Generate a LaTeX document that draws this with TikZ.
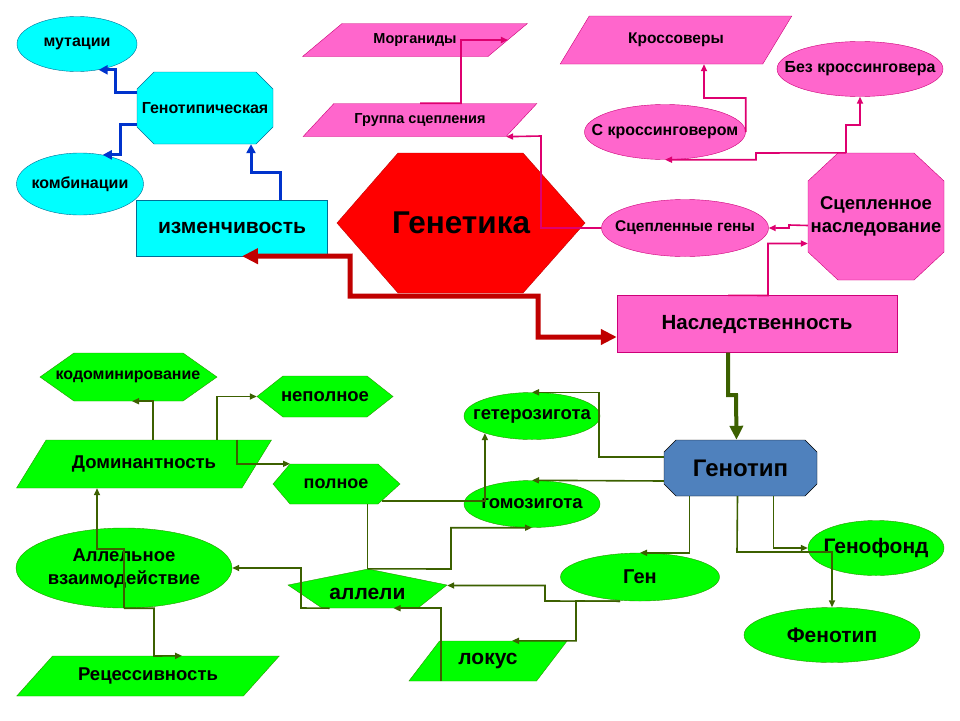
\documentclass[tikz,border=0pt]{standalone}
\usepackage{fontspec}
\setmainfont{Liberation Sans}
\usetikzlibrary{shapes.geometric,arrows.meta}

\definecolor{zyan}{RGB}{0,255,255}
\definecolor{zyanrand}{RGB}{0,110,150}
\definecolor{rosa}{RGB}{255,102,204}
\definecolor{rosarand}{RGB}{204,0,120}
\definecolor{rosalinie}{RGB}{222,0,112}
\definecolor{gruen}{RGB}{0,255,0}
\definecolor{gruenrand}{RGB}{40,150,0}
\definecolor{gruenlinie}{RGB}{60,96,0}
\definecolor{blaulinie}{RGB}{0,51,204}
\definecolor{dunkelrot}{RGB}{192,0,0}
\definecolor{genotipblau}{RGB}{79,129,189}

\newcommand{\schrift}[2]{\fontsize{#1}{#2}\selectfont\bfseries}
\newcommand{\mitte}[1]{\makebox[0pt]{#1}}
\newcommand{\zweizeilig}[2]{\makebox[0pt]{\begin{tabular}{@{}c@{}}#1\\#2\end{tabular}}}

\begin{document}
\begin{tikzpicture}[x=1pt, y=-1pt,
	every node/.style={inner sep=0pt, align=center, font=\schrift{16}{19}},
	zell/.style={ellipse, draw=zyanrand, fill=zyan},
	zbox/.style={rectangle, draw=zyanrand, fill=zyan},
	zform/.style={draw=zyanrand, fill=zyan},
	rell/.style={ellipse, draw=rosarand, fill=rosa},
	rbox/.style={rectangle, draw=rosarand, fill=rosa},
	rform/.style={draw=rosarand, fill=rosa},
	rpara/.style={trapezium, trapezium stretches=true, draw=rosarand, fill=rosa},
	gell/.style={ellipse, draw=gruenrand, fill=gruen},
	gform/.style={draw=gruenrand, fill=gruen},
	gpara/.style={trapezium, trapezium stretches=true, draw=gruenrand, fill=gruen},
	blink/.style={draw=blaulinie, line width=3pt, -{Triangle[length=9pt,width=9pt]}},
	rlink/.style={draw=rosalinie, line width=1.6pt, -{Triangle[length=7pt,width=6pt]}},
	glink/.style={draw=gruenlinie, line width=1.6pt, -{Triangle[length=7pt,width=6pt]}},
	rotpfeil/.style={draw=dunkelrot, line width=5pt, {Triangle[length=16pt,width=15pt]}-{Triangle[length=16pt,width=15pt]}},
	gruenpfeil/.style={draw=gruenlinie, line width=4pt, -{Triangle[length=14pt,width=13pt]}}]
	\useasboundingbox[fill=white] (0,0) rectangle (960,720); % weisser Hintergrund

	% Variabilitaet
	\node[zell, minimum width=120pt, minimum height=55pt] (mutacii) at (77,44) {\mitte{мутации}};
	\filldraw[zform] (137,89) -- (154,72) -- (256,72) -- (273,89) -- (273,127) -- (256,144) -- (154,144) -- (137,127) -- cycle;
	\node[minimum width=136pt, minimum height=72pt] (genotipich) at (205,108) {Генотипическая};
	\node[zell, minimum width=127pt, minimum height=62pt] (kombinacii) at (80,184) {\mitte{комбинации}};
	\node[zbox, minimum width=191pt, minimum height=56pt, font=\schrift{21}{24}] (izmenchivost) at (232,228) {изменчивость};

	% Vererbung
	\node[rpara, trapezium left angle=30, trapezium right angle=150, minimum width=225pt, minimum height=33pt, font=\schrift{14.5}{17}] (morganidy) at (415,40) {Морганиды};
	\node[rpara, trapezium left angle=29, trapezium right angle=151, minimum width=234pt, minimum height=33pt, font=\schrift{14.5}{17}] (gruppa) at (420,120) {Группа сцепления};
	\filldraw[draw=dunkelrot, fill=red] (337,223) -- (398,153) -- (523,153) -- (585,223) -- (523,293) -- (398,293) -- cycle;
	\node[minimum width=248pt, minimum height=140pt, font=\schrift{31.5}{36}] (genetika) at (461,223) {Генетика};
	\node[rpara, trapezium left angle=41, trapezium right angle=139, minimum width=232pt, minimum height=48pt, font=\schrift{15.5}{18}] (krossovery) at (676,40) {Кроссоверы};
	\node[rell, minimum width=166pt, minimum height=55pt] (bezkross) at (860,69) {\mitte{Без кроссинговера}};
	\node[rell, minimum width=161pt, minimum height=55pt] (skross) at (665,132) {\mitte{С кроссинговером}};
	\filldraw[rform] (808,181) -- (838,153) -- (914,153) -- (944,181) -- (944,252) -- (914,280) -- (838,280) -- (808,252) -- cycle;
	\node[minimum width=136pt, minimum height=127pt, font=\schrift{18.5}{23}] (sceplnasl) at (876,216.5) {Сцепленное\\наследование};
	\node[rell, minimum width=167pt, minimum height=57pt, font=\schrift{15.5}{18}] (sceplgeny) at (685,228) {\mitte{Сцепленные гены}};
	\node[rbox, minimum width=280pt, minimum height=57pt, font=\schrift{20.5}{24}] (nasledstv) at (757,324) {Наследственность};

	% Genotyp und Allele
	\filldraw[gform] (40,377) -- (74,353) -- (183,353) -- (217,377) -- (183,401) -- (74,401) -- cycle;
	\node[minimum width=177pt, minimum height=48pt] (kodomin) at (128,377) {кодоминирование};
	\filldraw[gform] (257,396.5) -- (283,376) -- (367,376) -- (393,396.5) -- (367,417) -- (283,417) -- cycle;
	\node[minimum width=136pt, minimum height=41pt, font=\schrift{18.5}{21}] (nepolnoe) at (325,396.5) {неполное};
	\node[gpara, trapezium left angle=37, trapezium right angle=143, minimum width=255pt, minimum height=48pt, font=\schrift{18.5}{21}] (dominant) at (144,464) {Доминантность};
	\filldraw[gform] (273,484) -- (290,464) -- (378,464) -- (400,484) -- (378,504) -- (290,504) -- cycle;
	\node[minimum width=127pt, minimum height=40pt, font=\schrift{18}{21}] (polnoe) at (336,484) {полное};
	\node[gell, minimum width=216pt, minimum height=80pt, font=\schrift{18.5}{23}] (allelnoe) at (124,568) {\zweizeilig{Аллельное}{взаимодействие}};
	\node[gpara, trapezium left angle=32, trapezium right angle=148, minimum width=263pt, minimum height=40pt, font=\schrift{18.5}{21}] (recessiv) at (148,676) {Рецессивность};
	\filldraw[gform] (288,585) -- (368,569) -- (447,585) -- (418,608) -- (322,608) -- cycle;
	\node[minimum width=159pt, minimum height=39pt, font=\schrift{21}{24}] (alleli) at (367.5,588.5) {\raisebox{-11pt}[0pt][0pt]{аллели}};
	\node[gell, minimum width=136pt, minimum height=47pt, font=\schrift{18.5}{21}] (geterozigota) at (532,416) {\mitte{гетерозигота}};
	\node[gell, minimum width=136pt, minimum height=47pt, font=\schrift{18.5}{21}] (gomozigota) at (532,504) {\mitte{гомозигота}};
	\node[gell, minimum width=159pt, minimum height=48pt, font=\schrift{20}{23}] (gen) at (640,577) {\mitte{Ген}};
	\node[gpara, trapezium left angle=40, trapezium right angle=140, minimum width=159pt, minimum height=40pt, font=\schrift{21}{24}] (lokus) at (488,661) {локус};
	\filldraw[draw=black, fill=genotipblau] (664,452) -- (676,440) -- (805,440) -- (817,452) -- (817,484) -- (805,496) -- (676,496) -- (664,484) -- cycle;
	\node[minimum width=153pt, minimum height=56pt, font=\schrift{24}{28}] (genotip) at (740.5,468) {Генотип};
	\node[gell, minimum width=136pt, minimum height=55pt, font=\schrift{21}{24}] (genofond) at (876,548) {\mitte{Генофонд}};
	\node[gell, minimum width=176pt, minimum height=55pt, font=\schrift{21}{24}] (fenotip) at (832,635) {\mitte{Фенотип}};

	% Pfeile
	\draw[blink] ([yshift=16pt]genotipich.west) -- (115,92) |- (mutacii.-50);
	\draw[blink] ([yshift=-16pt]genotipich.west) -- (120,124) |- (kombinacii.52);
	\draw[blink] ([xshift=48pt]izmenchivost.north) |- (251,172) -- ([xshift=46pt]genotipich.south);

	\draw[rotpfeil] ([xshift=10pt]izmenchivost.south) -- (350,256) -- (350,296) -- (538,296) |- ([yshift=-13pt]nasledstv.west);
	\draw[gruenpfeil] ([xshift=-29pt]nasledstv.south) -- (728,395) -- (736,395) -- ([xshift=-4pt]genotip.north);

	\draw[rlink] (gruppa.north) -| (461,40) -- (morganidy.east);
	\draw[rlink] (sceplgeny.west) -| (541,136) -- (gruppa.bottom right corner);
	\draw[rlink] (skross.east) |- (704,98) -- ([xshift=28pt]krossovery.south);
	\draw[rlink] ([xshift=-30pt]sceplnasl.north) |- (860,125) -- (bezkross.south);
	\draw[rlink] ([xshift=-30pt]sceplnasl.north) -- (756,153) |- (skross.south);
	\draw[rlink] ([yshift=-9pt]sceplnasl.west) -- (789,225) |- (sceplgeny.east);
	\draw[rlink] ([xshift=-29pt]nasledstv.north) -- (768,295.5) |- ([yshift=-27pt]sceplnasl.west);

	\draw[glink] ([xshift=9pt]dominant.north) |- ([xshift=4pt]kodomin.south);
	\draw[glink] ([xshift=73pt]dominant.north) |- (nepolnoe.west);
	\draw[glink] ([xshift=93pt]dominant.north) |- ([xshift=-46pt]polnoe.north);
	\draw[glink] (allelnoe.south) |- (97,549) -- ([xshift=-47pt]dominant.south);
	\draw[glink] (allelnoe.south) -| (154,656) -- ([xshift=34pt]recessiv.north);
	\draw[glink] ([xshift=-38pt]alleli.south) -- (301,608) |- (allelnoe.east);
	\draw[glink, -] (polnoe.south -| alleli.north) -- (alleli.north);
	\draw[glink] ([xshift=46pt, yshift=3pt]polnoe.south) -| (geterozigota.-160);
	\draw[glink] (alleli.north) -- (451,569) |- (gomozigota.south);
	\draw[glink] ([xshift=-20pt]gen.south) -- (545,601) |- ([yshift=3pt]alleli.east);
	\draw[glink] ([xshift=-20pt]gen.south) -- (576,601) |- ([xshift=24pt]lokus.north);
	\draw[glink] ([xshift=-47pt]lokus.south) |- ([xshift=26pt]alleli.south);
	\draw[glink] ([yshift=11pt]genotip.west) -- (599,457) |- (geterozigota.north);
	\draw[glink] ([yshift=-13pt]genotip.west) -- (gomozigota.north);
	\draw[glink] ([xshift=-51pt]genotip.south) |- (gen.north);
	\draw[glink] ([xshift=33pt]genotip.south) |- (genofond.west);
	\draw[glink] ([xshift=-3pt]genotip.south) -- (737,552) -| (fenotip.north);

	%\draw[help lines, step=20] (0,0) grid (960,720);
\end{tikzpicture}
\end{document}
